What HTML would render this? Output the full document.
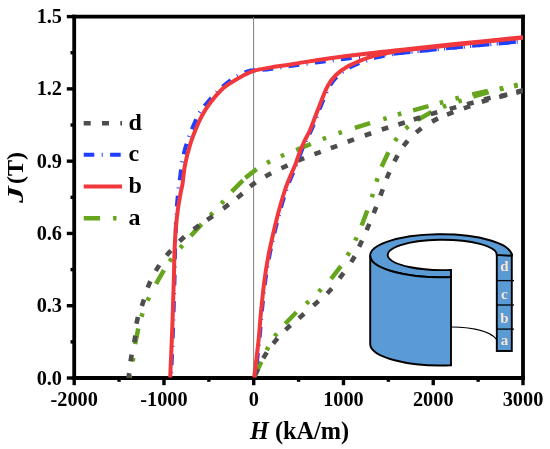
<!DOCTYPE html>
<html lang="en"><head><meta charset="utf-8"><title>J-H curves</title>
<style>html,body{margin:0;padding:0;background:#fff}body{width:550px;height:449px;overflow:hidden}</style></head>
<body>
<svg width="550" height="449" viewBox="0 0 550 449" style="display:block">
<rect width="550" height="449" fill="#fff"/>
<g stroke="#000" stroke-width="3.8" fill="none" stroke-linecap="butt">
<path d="M74.2 14.7 V380"/>
<path d="M72.3 378 H525"/>
<path d="M72.3 16.6 H525"/>
<path d="M523 14.7 V380"/>
</g>
<g stroke="#000" stroke-width="3.4">
<line x1="74.20" y1="378" x2="74.20" y2="385.2"/>
<line x1="119.08" y1="378" x2="119.08" y2="381.8"/>
<line x1="163.96" y1="378" x2="163.96" y2="385.2"/>
<line x1="208.84" y1="378" x2="208.84" y2="381.8"/>
<line x1="253.72" y1="378" x2="253.72" y2="385.2"/>
<line x1="298.60" y1="378" x2="298.60" y2="381.8"/>
<line x1="343.48" y1="378" x2="343.48" y2="385.2"/>
<line x1="388.36" y1="378" x2="388.36" y2="381.8"/>
<line x1="433.24" y1="378" x2="433.24" y2="385.2"/>
<line x1="478.12" y1="378" x2="478.12" y2="381.8"/>
<line x1="523.00" y1="378" x2="523.00" y2="385.2"/>
<line x1="66.8" y1="378.00" x2="74" y2="378.00"/>
<line x1="70.5" y1="341.86" x2="74" y2="341.86"/>
<line x1="66.8" y1="305.72" x2="74" y2="305.72"/>
<line x1="70.5" y1="269.58" x2="74" y2="269.58"/>
<line x1="66.8" y1="233.44" x2="74" y2="233.44"/>
<line x1="70.5" y1="197.30" x2="74" y2="197.30"/>
<line x1="66.8" y1="161.16" x2="74" y2="161.16"/>
<line x1="70.5" y1="125.02" x2="74" y2="125.02"/>
<line x1="66.8" y1="88.88" x2="74" y2="88.88"/>
<line x1="70.5" y1="52.74" x2="74" y2="52.74"/>
<line x1="66.8" y1="16.60" x2="74" y2="16.60"/>
</g>
<line x1="253.6" y1="17" x2="253.6" y2="377" stroke="#7f7f7f" stroke-width="1"/>
<clipPath id="pc"><rect x="74" y="16" width="449" height="362"/></clipPath>
<g clip-path="url(#pc)" fill="none" stroke-linejoin="round">
<path d="M129.24 378.26 L129.96 374.74M132.69 361.37 L133.31 357.83M135.12 344.14 L138.28 328.46M141.47 316.72 L142.53 313.28M147.53 300.63 L149.07 297.37M156.03 283.94 L163.97 270.06M169.56 261.47 L171.64 258.53M180.23 247.97 L182.57 245.23M190.76 235.87 L201.64 224.13M210.36 215.30 L212.84 212.70M221.38 203.63 L223.82 200.97M231.68 191.70 L242.92 180.30M245.32 177.85 L256.68 169.15M266.94 162.99 L270.06 161.21M280.85 156.21 L284.15 154.79M296.09 150.02 L310.91 143.98M322.72 139.06 L326.08 137.74M338.50 133.18 L341.90 132.02M354.86 127.89 L370.14 123.11M383.28 119.13 L386.72 118.07M397.87 114.50 L401.33 113.50M413.09 110.32 L428.51 106.08M439.76 102.98 L443.24 102.02M455.46 98.65 L458.94 97.75M472.19 94.35 L487.81 90.85M499.64 88.66 L503.16 87.94M514.04 85.58 L517.56 84.82" stroke="#66a61e" stroke-width="4.5" fill="none"/>
<path d="M254.61 376.25 L261.39 361.75M266.67 350.29 L268.33 347.11M274.71 336.43 L276.89 333.57M285.21 323.73 L296.39 312.27M306.19 303.73 L308.81 301.27M318.76 291.80 L321.24 289.20M331.09 278.81 L340.91 266.19M347.48 255.55 L349.32 252.45M355.27 240.64 L356.73 237.36M361.67 225.48 L367.33 210.52M371.84 197.31 L372.96 193.89M376.41 181.70 L377.59 178.30M381.60 166.74 L388.40 152.26M394.98 140.98 L397.02 138.02M405.61 128.65 L408.39 126.35M417.53 119.93 L431.47 112.07M442.94 107.00 L446.26 105.60M458.29 101.56 L461.71 100.44M473.31 96.51 L488.69 92.09M500.05 89.42 L503.55 88.58M514.24 86.20 L517.76 85.40" stroke="#66a61e" stroke-width="4.5" fill="none"/>
<path d="M128.26 379.87 L129.14 373.13M130.55 361.36 L131.65 354.64M134.26 342.36 L135.34 335.64M136.46 323.72 L137.94 317.08M141.84 306.03 L143.96 299.57M147.68 287.54 L150.32 281.26M155.69 270.88 L159.31 265.12M166.51 255.60 L170.89 250.40M179.50 241.31 L184.50 236.69M193.68 229.44 L199.12 225.36M207.22 219.96 L212.78 216.04M223.27 208.53 L228.73 204.47M237.17 197.96 L242.43 193.64M250.17 186.42 L255.63 182.38M265.23 176.45 L271.17 173.15M281.42 168.24 L287.58 165.36M297.86 160.71 L304.14 158.09M314.42 154.20 L320.78 151.80M330.81 148.19 L337.19 145.81M347.61 141.78 L353.99 139.42M364.79 135.53 L371.21 133.27M381.77 129.55 L388.23 127.45M398.35 124.51 L404.85 122.49M413.76 119.53 L420.24 117.47M430.74 114.15 L437.26 112.25M449.72 108.89 L456.28 107.11M467.02 104.30 L473.58 102.50M484.00 99.40 L490.60 97.80M500.69 95.97 L507.31 94.43M516.91 91.85 L523.49 90.15" stroke="#4d4d4d" stroke-width="4.6" fill="none"/>
<path d="M254.96 375.03 L258.04 368.97M263.24 358.21 L266.76 352.39M273.23 343.42 L277.57 338.18M285.54 329.94 L290.46 325.26M298.93 318.23 L304.07 313.77M313.46 305.56 L318.54 301.04M327.19 293.50 L331.81 288.50M339.58 278.33 L343.62 272.87M351.26 262.12 L354.74 256.28M359.16 246.68 L362.04 240.52M366.66 230.13 L369.34 223.87M373.76 213.16 L376.24 206.84M380.41 195.58 L382.79 189.22M386.67 178.43 L389.33 172.17M394.36 161.38 L397.64 155.42M403.45 146.04 L407.75 140.76M416.14 132.52 L421.46 128.28M432.01 121.63 L437.99 118.37M447.04 114.56 L453.36 112.04M463.80 108.35 L470.20 106.05M481.75 101.81 L488.25 99.79M499.21 97.06 L505.79 95.34M516.21 92.65 L522.79 90.95" stroke="#4d4d4d" stroke-width="4.6" fill="none"/>
<path d="M171.00 377.50 C171.33 369.58 172.42 346.25 173.00 330.00 C173.58 313.75 174.15 293.33 174.50 280.00 C174.85 266.67 174.88 258.33 175.10 250.00 C175.32 241.67 175.55 236.67 175.80 230.00 C176.05 223.33 176.20 216.33 176.60 210.00 C177.00 203.67 177.57 197.83 178.20 192.00 C178.83 186.17 179.77 179.90 180.40 175.00 C181.03 170.10 181.23 166.93 182.00 162.60 C182.77 158.27 183.87 153.23 185.00 149.00 C186.13 144.77 187.37 141.17 188.80 137.20 C190.23 133.23 191.82 129.27 193.60 125.20 C195.38 121.13 197.13 116.67 199.50 112.80 C201.87 108.93 204.88 105.47 207.80 102.00 C210.72 98.53 213.97 95.05 217.00 92.00 C220.03 88.95 222.92 86.17 226.00 83.70 C229.08 81.23 231.90 79.27 235.50 77.20 C239.10 75.13 244.18 72.47 247.60 71.30 C251.02 70.13 254.60 70.38 256.00 70.20" stroke="#1f3fff" stroke-width="4" stroke-dasharray="10.8 7.3 1 7.3" stroke-dashoffset="13.75"/>
<path d="M247.60 71.30 C249.00 71.12 252.27 70.58 256.00 70.20 C259.73 69.82 264.33 69.70 270.00 69.00 C275.67 68.30 280.00 67.40 290.00 66.00 C300.00 64.60 316.67 62.27 330.00 60.60 C343.33 58.93 358.33 57.27 370.00 56.00 C381.67 54.73 385.00 54.50 400.00 53.00 C415.00 51.50 440.33 48.90 460.00 47.00 C479.67 45.10 508.33 42.50 518.00 41.60" stroke="#1f3fff" stroke-width="4" stroke-dasharray="10.8 7.3 1 7.3" stroke-dashoffset="11.48"/>
<path d="M255.00 377.50 C255.72 371.42 258.17 351.92 259.30 341.00 C260.43 330.08 260.78 322.17 261.80 312.00 C262.82 301.83 264.20 289.00 265.40 280.00 C266.60 271.00 267.68 265.00 269.00 258.00 C270.32 251.00 271.60 245.33 273.30 238.00 C275.00 230.67 277.03 222.00 279.20 214.00 C281.37 206.00 284.18 196.40 286.30 190.00 C288.42 183.60 290.13 179.93 291.90 175.60 C293.67 171.27 295.38 167.90 296.90 164.00 C298.42 160.10 299.52 156.03 301.00 152.20 C302.48 148.37 304.07 144.70 305.80 141.00 C307.53 137.30 309.57 134.10 311.40 130.00 C313.23 125.90 314.87 121.30 316.80 116.40 C318.73 111.50 320.90 105.57 323.00 100.60 C325.10 95.63 327.03 90.63 329.40 86.60 C331.77 82.57 334.17 79.40 337.20 76.40 C340.23 73.40 343.50 70.97 347.60 68.60 C351.70 66.23 357.15 64.03 361.80 62.20 C366.45 60.37 370.80 58.83 375.50 57.60 C380.20 56.37 385.58 55.60 390.00 54.80 C394.42 54.00 390.33 54.10 402.00 52.80 C413.67 51.50 440.67 48.87 460.00 47.00 C479.33 45.13 508.33 42.50 518.00 41.60" stroke="#1f3fff" stroke-width="4" stroke-dasharray="10.8 7.3 1 7.3" stroke-dashoffset="12.69"/>
<path d="M170.20 377.50 C170.53 369.58 171.60 346.25 172.20 330.00 C172.80 313.75 173.40 293.33 173.80 280.00 C174.20 266.67 174.28 258.33 174.60 250.00 C174.92 241.67 175.17 236.67 175.70 230.00 C176.23 223.33 176.95 216.33 177.80 210.00 C178.65 203.67 180.03 196.20 180.80 192.00 C181.57 187.80 181.70 189.30 182.40 184.80 C183.10 180.30 183.73 171.63 185.00 165.00 C186.27 158.37 188.17 151.08 190.00 145.00 C191.83 138.92 193.95 133.50 196.00 128.50 C198.05 123.50 199.87 119.37 202.30 115.00 C204.73 110.63 207.48 106.43 210.60 102.30 C213.72 98.17 217.77 93.37 221.00 90.20 C224.23 87.03 226.50 85.63 230.00 83.30 C233.50 80.97 238.07 78.27 242.00 76.20 C245.93 74.13 248.93 72.33 253.60 70.90 C258.27 69.47 264.60 68.55 270.00 67.60 C275.40 66.65 281.00 65.98 286.00 65.20 C291.00 64.42 292.67 64.07 300.00 62.90 C307.33 61.73 318.33 59.82 330.00 58.20 C341.67 56.58 358.33 54.58 370.00 53.20 C381.67 51.82 385.00 51.50 400.00 49.90 C415.00 48.30 439.50 45.70 460.00 43.60 C480.50 41.50 512.50 38.35 523.00 37.30" stroke="#f0383d" stroke-width="4"/>
<path d="M254.20 377.50 C254.92 371.42 257.37 351.92 258.50 341.00 C259.63 330.08 260.00 322.17 261.00 312.00 C262.00 301.83 263.33 289.00 264.50 280.00 C265.67 271.00 266.72 265.00 268.00 258.00 C269.28 251.00 270.53 245.33 272.20 238.00 C273.87 230.67 275.87 222.00 278.00 214.00 C280.13 206.00 282.90 196.40 285.00 190.00 C287.10 183.60 288.83 179.93 290.60 175.60 C292.37 171.27 294.08 167.90 295.60 164.00 C297.12 160.10 298.22 156.03 299.70 152.20 C301.18 148.37 302.77 144.70 304.50 141.00 C306.23 137.30 308.27 134.17 310.10 130.00 C311.93 125.83 313.57 121.00 315.50 116.00 C317.43 111.00 319.62 105.07 321.70 100.00 C323.78 94.93 325.62 89.77 328.00 85.60 C330.38 81.43 332.88 78.10 336.00 75.00 C339.12 71.90 342.53 69.43 346.70 67.00 C350.87 64.57 356.28 62.30 361.00 60.40 C365.72 58.50 370.17 56.90 375.00 55.60 C379.83 54.30 385.50 53.47 390.00 52.60 C394.50 51.73 390.33 51.80 402.00 50.40 C413.67 49.00 439.83 46.30 460.00 44.20 C480.17 42.10 512.50 38.87 523.00 37.80" stroke="#f0383d" stroke-width="4"/>
</g>
<g stroke="#000" stroke-width="1.9" stroke-linejoin="miter">
<rect x="496.8" y="254.2" width="15" height="96.8" fill="#5b9bd5"/>
<path d="M511.80 255.80 A70.80 21.50 0 1 0 451.00 277.08 L451.00 269.90 A54.55 15.20 0 1 1 496.80 254.90 Z" fill="#5b9bd5"/>
<path d="M370.20 255.80 A70.80 21.50 0 0 0 451.00 277.08 L451.00 365.28 A70.80 21.50 0 0 1 370.20 344.00 Z" fill="#5b9bd5"/>
</g>
<path d="M451.6 327 C470 327.2 490 330.5 496.8 339.6" fill="none" stroke="#000" stroke-width="1.2"/>
<line x1="496.8" y1="280.6" x2="514" y2="280.6" stroke="#000" stroke-width="1.3"/>
<line x1="496.8" y1="305.0" x2="514" y2="305.0" stroke="#000" stroke-width="1.3"/>
<line x1="496.8" y1="329.1" x2="514" y2="329.1" stroke="#000" stroke-width="1.3"/>
<text x="504.4" y="271.0" text-anchor="middle" font-family="'Liberation Serif',serif" font-weight="bold" font-size="15" fill="#fbe5d0">d</text>
<text x="504.4" y="298.6" text-anchor="middle" font-family="'Liberation Serif',serif" font-weight="bold" font-size="15" fill="#fbe5d0">c</text>
<text x="504.4" y="322.8" text-anchor="middle" font-family="'Liberation Serif',serif" font-weight="bold" font-size="15" fill="#fbe5d0">b</text>
<text x="504.4" y="345.2" text-anchor="middle" font-family="'Liberation Serif',serif" font-weight="bold" font-size="15" fill="#fbe5d0">a</text>
<g font-family="'Liberation Serif',serif" font-weight="bold" fill="#000">
<g font-size="20.3" text-anchor="middle">
<text x="74.20" y="406.3">-2000</text>
<text x="163.96" y="406.3">-1000</text>
<text x="253.72" y="406.3">0</text>
<text x="343.48" y="406.3">1000</text>
<text x="433.24" y="406.3">2000</text>
<text x="523.00" y="406.3">3000</text>
</g>
<g font-size="20.3" text-anchor="end">
<text x="62" y="384.60">0.0</text>
<text x="62" y="312.32">0.3</text>
<text x="62" y="240.04">0.6</text>
<text x="62" y="167.76">0.9</text>
<text x="62" y="95.48">1.2</text>
<text x="62" y="23.20">1.5</text>
</g>
<text x="299.6" y="438.6" font-size="24.3" text-anchor="middle"><tspan font-style="italic">H</tspan> (kA/m)</text>
<g transform="translate(23.3 177.3) rotate(-90)" font-size="24"><text transform="translate(-25.6 0) scale(1.4 1)" font-style="italic">J</text><text x="25.2" text-anchor="end">(T)</text></g>
<text x="128.4" y="129.7" font-size="24">d</text>
<text x="128.4" y="161.2" font-size="24">c</text>
<text x="128.4" y="192.7" font-size="24">b</text>
<text x="128.4" y="224.6" font-size="24">a</text>
</g>
<g fill="none">
<line x1="83.7" y1="123.3" x2="122" y2="123.3" stroke="#4d4d4d" stroke-width="4.6" stroke-dasharray="7 11.3"/>
<line x1="83.7" y1="154.8" x2="121.2" y2="154.8" stroke="#1f3fff" stroke-width="4" stroke-dasharray="10.6 7.4 1 7.4"/>
<line x1="83.7" y1="186.4" x2="122" y2="186.4" stroke="#f0383d" stroke-width="4"/>
<line x1="83.7" y1="218.2" x2="122" y2="218.2" stroke="#66a61e" stroke-width="4.6" stroke-dasharray="16.4 13 3.4 13 3.4 13"/>
</g>
</svg>
</body></html>
